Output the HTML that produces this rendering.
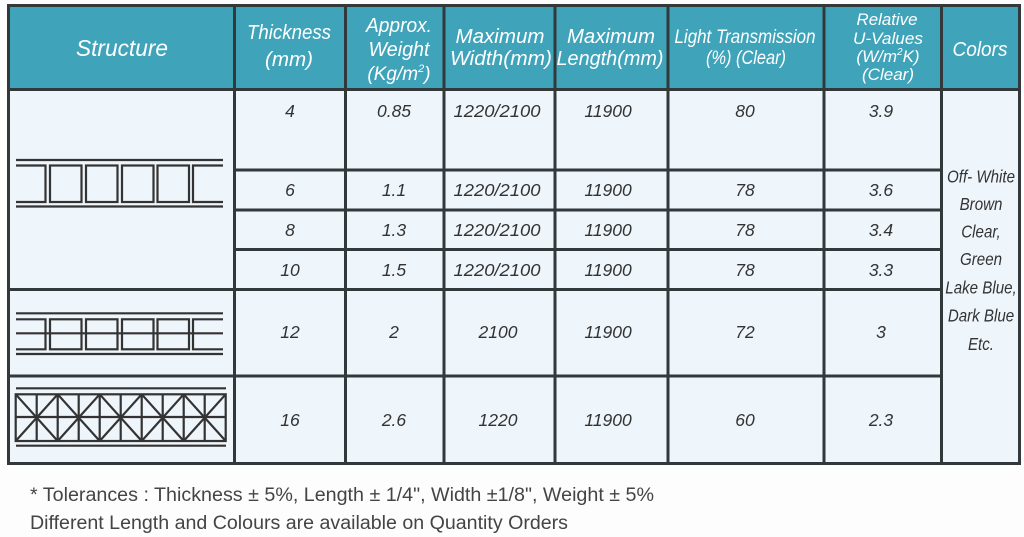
<!DOCTYPE html>
<html><head><meta charset="utf-8"><style>
html,body{margin:0;padding:0;background:#fdfdfd;width:1024px;height:537px;overflow:hidden}
svg{display:block}
.h{fill:#fff;font-family:"Liberation Sans",sans-serif;font-style:italic;text-anchor:middle}
.d{fill:#333;font-family:"Liberation Sans",sans-serif;font-style:italic;font-size:17.5px;text-anchor:middle}
.f{fill:#444;font-family:"Liberation Sans",sans-serif;font-size:19px}
</style></head><body>
<svg width="1024" height="537" viewBox="0 0 1024 537" xmlns="http://www.w3.org/2000/svg">
<rect x="8" y="5" width="1012" height="85" fill="#3fa4ba"/>
<rect x="8" y="89" width="1012" height="375" fill="#eef5fb"/>
<g stroke="#33383b" stroke-width="3" fill="none">
<rect x="8.5" y="5.5" width="1011" height="458"/>
<line x1="8" y1="89.5" x2="1020" y2="89.5"/>
<line x1="234.5" y1="5" x2="234.5" y2="464"/>
<line x1="345.5" y1="5" x2="345.5" y2="464"/>
<line x1="444" y1="5" x2="444" y2="464"/>
<line x1="555" y1="5" x2="555" y2="464"/>
<line x1="668" y1="5" x2="668" y2="464"/>
<line x1="824" y1="5" x2="824" y2="464"/>
<line x1="941.5" y1="5" x2="941.5" y2="464"/>
<line x1="234" y1="170" x2="941" y2="170"/>
<line x1="234" y1="210" x2="941" y2="210"/>
<line x1="234" y1="249.5" x2="941" y2="249.5"/>
<line x1="8" y1="289.5" x2="941" y2="289.5"/>
<line x1="8" y1="376" x2="941" y2="376"/>
</g>
<!-- icons -->
<g stroke="#333" stroke-width="2.2" fill="none">
<line x1="16" y1="160" x2="223" y2="160"/>
<line x1="16" y1="206.5" x2="223" y2="206.5"/>
<path d="M16 165.5H45.5V202H16"/>
<rect x="50" y="165.5" width="31.5" height="36.5"/>
<rect x="86" y="165.5" width="31.5" height="36.5"/>
<rect x="122" y="165.5" width="31.5" height="36.5"/>
<rect x="157.5" y="165.5" width="31.5" height="36.5"/>
<path d="M223 165.5H193V202H223"/>

<line x1="16" y1="313.3" x2="223" y2="313.3"/>
<line x1="16" y1="354" x2="223" y2="354"/>
<path d="M16 319.3H45.5V349.3H16"/>
<rect x="50" y="319.3" width="31.5" height="30"/>
<rect x="86" y="319.3" width="31.5" height="30"/>
<rect x="122" y="319.3" width="31.5" height="30"/>
<rect x="157.5" y="319.3" width="31.5" height="30"/>
<path d="M223 319.3H193V349.3H223"/>
<line x1="16" y1="333.3" x2="223" y2="333.3"/>

<line x1="16" y1="388.3" x2="226" y2="388.3"/>
<line x1="16" y1="445.7" x2="226" y2="445.7"/>
<rect x="15.7" y="394.3" width="210" height="46.7"/>
<line x1="15.7" y1="417" x2="225.7" y2="417"/>
<path d="M36.7 394.3V441M57.7 394.3V441M78.7 394.3V441M99.7 394.3V441M120.7 394.3V441M141.7 394.3V441M162.7 394.3V441M183.7 394.3V441M204.7 394.3V441"/>
<path d="M15.7 394.3L57.7 441M57.7 394.3L15.7 441M57.7 394.3L99.7 441M99.7 394.3L57.7 441M99.7 394.3L141.7 441M141.7 394.3L99.7 441M141.7 394.3L183.7 441M183.7 394.3L141.7 441M183.7 394.3L225.7 441M225.7 394.3L183.7 441"/>
</g>
<!-- header text -->
<text class="h" x="122" y="56" font-size="23" textLength="92" lengthAdjust="spacingAndGlyphs">Structure</text>
<text class="h" x="289" y="39" font-size="20" textLength="84" lengthAdjust="spacingAndGlyphs">Thickness</text>
<text class="h" x="289" y="66" font-size="20" textLength="48" lengthAdjust="spacingAndGlyphs">(mm)</text>
<text class="h" x="399" y="32" font-size="20" textLength="66" lengthAdjust="spacingAndGlyphs">Approx.</text>
<text class="h" x="399" y="56" font-size="20" textLength="61" lengthAdjust="spacingAndGlyphs">Weight</text>
<text class="h" x="399" y="80" font-size="19">(Kg/m<tspan font-size="11" dy="-8">2</tspan><tspan dy="8">)</tspan></text>
<text class="h" x="500" y="43" font-size="20" textLength="89" lengthAdjust="spacingAndGlyphs">Maximum</text>
<text class="h" x="501" y="65" font-size="20" textLength="102" lengthAdjust="spacingAndGlyphs">Width(mm)</text>
<text class="h" x="611" y="43" font-size="20" textLength="88" lengthAdjust="spacingAndGlyphs">Maximum</text>
<text class="h" x="610" y="65" font-size="20" textLength="107" lengthAdjust="spacingAndGlyphs">Length(mm)</text>
<text class="h" x="745" y="43" font-size="19" textLength="141" lengthAdjust="spacingAndGlyphs">Light Transmission</text>
<text class="h" x="746" y="64" font-size="19" textLength="80" lengthAdjust="spacingAndGlyphs">(%) (Clear)</text>
<text class="h" x="887" y="25" font-size="17" textLength="61" lengthAdjust="spacingAndGlyphs">Relative</text>
<text class="h" x="888" y="44" font-size="17" textLength="70" lengthAdjust="spacingAndGlyphs">U-Values</text>
<text class="h" x="888" y="62" font-size="17">(W/m<tspan font-size="10" dy="-7">2</tspan><tspan dy="7">K)</tspan></text>
<text class="h" x="888" y="80" font-size="17" textLength="52" lengthAdjust="spacingAndGlyphs">(Clear)</text>
<text class="h" x="980" y="56" font-size="20" textLength="55" lengthAdjust="spacingAndGlyphs">Colors</text>
<!-- data -->
<g>
<text class="d" x="290" y="117">4</text>
<text class="d" x="394" y="117">0.85</text>
<text class="d" x="497" y="117" textLength="87" lengthAdjust="spacingAndGlyphs">1220/2100</text>
<text class="d" x="608" y="117">11900</text>
<text class="d" x="745" y="117">80</text>
<text class="d" x="881" y="117">3.9</text>

<text class="d" x="290" y="196">6</text>
<text class="d" x="394" y="196">1.1</text>
<text class="d" x="497" y="196" textLength="87" lengthAdjust="spacingAndGlyphs">1220/2100</text>
<text class="d" x="608" y="196">11900</text>
<text class="d" x="745" y="196">78</text>
<text class="d" x="881" y="196">3.6</text>

<text class="d" x="290" y="236">8</text>
<text class="d" x="394" y="236">1.3</text>
<text class="d" x="497" y="236" textLength="87" lengthAdjust="spacingAndGlyphs">1220/2100</text>
<text class="d" x="608" y="236">11900</text>
<text class="d" x="745" y="236">78</text>
<text class="d" x="881" y="236">3.4</text>

<text class="d" x="290" y="276">10</text>
<text class="d" x="394" y="276">1.5</text>
<text class="d" x="497" y="276" textLength="87" lengthAdjust="spacingAndGlyphs">1220/2100</text>
<text class="d" x="608" y="276">11900</text>
<text class="d" x="745" y="276">78</text>
<text class="d" x="881" y="276">3.3</text>

<text class="d" x="290" y="338">12</text>
<text class="d" x="394" y="338">2</text>
<text class="d" x="498" y="338">2100</text>
<text class="d" x="608" y="338">11900</text>
<text class="d" x="745" y="338">72</text>
<text class="d" x="881" y="338">3</text>

<text class="d" x="290" y="426">16</text>
<text class="d" x="394" y="426">2.6</text>
<text class="d" x="498" y="426">1220</text>
<text class="d" x="608" y="426">11900</text>
<text class="d" x="745" y="426">60</text>
<text class="d" x="881" y="426">2.3</text>
</g>
<g transform="translate(981,0) scale(0.84,1)">
<text class="d" x="0" y="182.5" style="font-size:18px">Off- White</text>
<text class="d" x="0" y="210" style="font-size:18px">Brown</text>
<text class="d" x="0" y="237.5" style="font-size:18px">Clear,</text>
<text class="d" x="0" y="265" style="font-size:18px">Green</text>
<text class="d" x="0" y="293.5" style="font-size:18px">Lake Blue,</text>
<text class="d" x="0" y="321.5" style="font-size:18px">Dark Blue</text>
<text class="d" x="0" y="350" style="font-size:18px">Etc.</text>
</g>
<!-- footer -->
<text class="f" x="30" y="501" textLength="624" lengthAdjust="spacingAndGlyphs">* Tolerances : Thickness ± 5%, Length ± 1/4", Width ±1/8", Weight ± 5%</text>
<text class="f" x="30" y="529" textLength="538" lengthAdjust="spacingAndGlyphs">Different Length and Colours are available on Quantity Orders</text>
</svg>
</body></html>
